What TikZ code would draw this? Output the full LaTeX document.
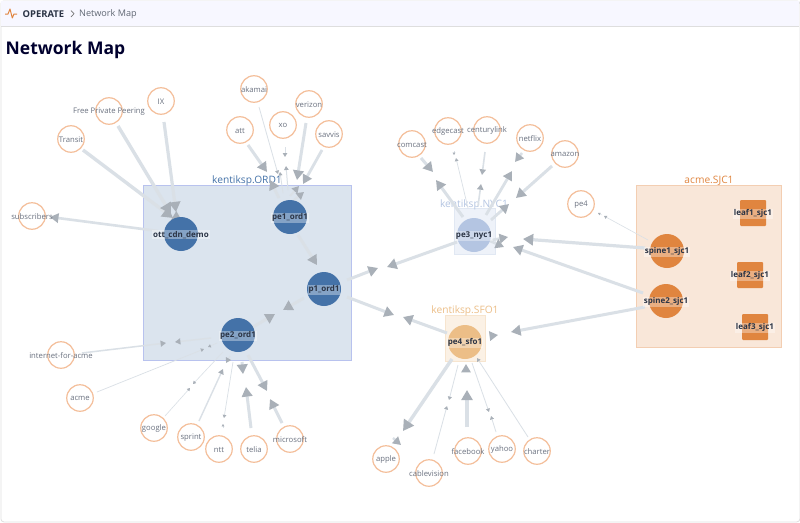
\documentclass[tikz,border=0pt]{standalone}
\usepackage{fontspec}
\setmainfont{Open Sans}
\usetikzlibrary{arrows.meta}
\definecolor{edgecol}{HTML}{DAE0E6}
\definecolor{headcol}{HTML}{A9B0B8}
\definecolor{extring}{HTML}{F4BF9B}
\definecolor{lbltxt}{HTML}{6B7280}
\definecolor{darktxt}{HTML}{2B3445}
\definecolor{blueA}{HTML}{4472A8}
\definecolor{blueB}{HTML}{B4C5E2}
\definecolor{orgA}{HTML}{E0853F}
\definecolor{orgB}{HTML}{ECBE87}
\newcommand{\szfont}[1]{\fontsize{#1}{#1}\selectfont}
\newcommand{\lnk}[4]{%
  \coordinate (#1-s) at (#3);\coordinate (#1-t) at (#4);
  \pgfmathsetmacro{\hl}{2.8*#2+1.2}\pgfmathsetmacro{\hw}{3*#2+1.5}
  \draw[draw=edgecol,line width=#2pt,-{Triangle[length=\hl pt,width=\hw pt,color=headcol]}] (#1-s) -- (#1-t);}
\tikzset{
  extnode/.style={circle,draw=extring,line width=1.2pt,fill=white,minimum size=26.5pt,inner sep=0pt,
    label={[extlabel]center:#1}},
  extlabel/.style={font=\szfont{7.7},text=lbltxt,inner sep=0pt,yshift=-.8pt},
  devlabel/.style={font=\bfseries\szfont{8},text=darktxt,inner sep=1pt,fill=white,fill opacity=.35,text opacity=1,yshift=-.8pt},
  devnode/.style={circle,draw=none,minimum size=34pt,inner sep=0pt},
  leafnode/.style={rectangle,rounded corners=1pt,draw=none,fill=orgA,minimum width=26pt,minimum height=26pt,inner sep=0pt},
  site/.style={rectangle,line width=.8pt,inner sep=0pt,anchor=north west},
  sitetitle/.style={font=\szfont{10.2},inner sep=0pt},
}
\begin{document}
\begin{tikzpicture}[x=1pt,y=-1pt]
\useasboundingbox (0,0) rectangle (800,522);
\fill[white] (0,0) rectangle (800,522);
% frame and header
\node[rectangle,draw=black!12,line width=.8pt,rounded corners=3pt,minimum width=799pt,minimum height=521pt,anchor=north west,inner sep=0pt] (frame) at (.5,.5) {};
\fill[fill=black!5!blue!3!white] (1,1) rectangle (799,26);
\draw[black!13,line width=.7pt] (1,26.5) -- (799,26.5);
\draw[orgA,line width=1pt,line join=round] (5,14) -- (8,14) -- (10,9) -- (12.3,18) -- (14,14) -- (17,14);
\node[anchor=west,inner sep=0pt,font=\bfseries\szfont{9.4},text=darktxt] (crumb) at (22.5,14.5) {OPERATE};
\draw[black!55,line width=.7pt] (71,10.5) -- (74,13.7) -- (71,17);
\node[anchor=west,inner sep=0pt,font=\szfont{9.1},text=lbltxt!90!black] (crumbb) at (79,14.5) {Network Map};
\node[anchor=west,inner sep=0pt,font=\bfseries\szfont{17.5},text=black!70!blue!60!black] (title) at (5.5,50) {Network Map};
% sites
\node[site,draw=blueB!85!blue!70,fill=blueA!19!white,minimum width=208pt,minimum height=175pt] (ord) at (143,185) {};
\node[site,draw=blueB!40!white,fill=blueB!22!white,minimum width=41pt,minimum height=46pt] (nyc) at (454,208) {};
\node[site,draw=orgB!40!white,fill=orgB!22!white,minimum width=40pt,minimum height=46pt] (sfo) at (445,315) {};
\node[site,draw=orgA!40!white,fill=orgA!20!white,minimum width=145pt,minimum height=162pt] (sjc) at (636,185) {};
\node[sitetitle,text=blueA] (ordt) at (247,181) {kentiksp.ORD1};
\node[sitetitle,text=blueB] (nyct) at (474,204.5) {kentiksp.NYC1};
\node[sitetitle,text=orgB] (sfot) at (465,311) {kentiksp.SFO1};
\node[sitetitle,text=orgA] (sjct) at (709,181) {acme.SJC1};
% connectors
\lnk{a1}{3.4}{83,150}{173,218}
\lnk{a2}{3.4}{118,126}{171,214}
\lnk{a3}{3.2}{164,122}{176,212}
\lnk{a4}{2.6}{158,231}{50,217}
\lnk{a5b}{2.8}{180,215}{171,220}
\lnk{b1}{3}{248,145}{267,172}
\lnk{b1r}{3}{279,198}{270,180}
\lnk{b2}{.8}{259,107}{278,174}
\lnk{b2r}{.8}{283,193}{280,172}
\lnk{b3}{1}{285,147}{285,157}
\lnk{b3r}{1}{288,190}{286,166}
\lnk{b4}{3}{306,123}{297,180}
\lnk{b4r}{2}{290,196}{299,186}
\lnk{b5}{2.8}{322,150}{303,184}
\lnk{b5r}{2.2}{294,200}{304,192}
\lnk{c1}{3}{298,235}{317,265}
\lnk{c2}{3}{304,298}{283,310}
\lnk{c3}{3}{253,327}{275,314}
\lnk{c4}{3}{347,280}{378,268}
\lnk{c5}{3}{457,242}{387,267}
\lnk{c6}{3}{347,297}{394,315}
\lnk{c7}{3}{447,333}{403,317}
\lnk{d1}{3.2}{645,248}{523,239}
\lnk{d2}{2.6}{492,240}{508,237}
\lnk{d3}{2.6}{490,241}{504,247}
\lnk{d4}{3}{643,293}{513,247}
\lnk{d5}{3}{645,307}{511,332}
\lnk{d6}{2.6}{490,336}{498,335}
\lnk{d7}{.6}{648,240}{604,216}
\lnk{d8}{.4}{602,215}{598,213}
\lnk{e1}{3}{421,158}{433,172}
\lnk{e2}{3}{463,217}{436,180}
\lnk{e3}{.4}{454,151}{454,155}
\lnk{e4}{.7}{468,208}{456,158}
\lnk{e5}{1.6}{485,152}{482,175}
\lnk{e6}{1.6}{478,206}{481,184}
\lnk{e7}{2.6}{522,153}{515,162}
\lnk{e8}{2.8}{486,215}{512,171}
\lnk{e9}{3}{552,166}{516,198}
\lnk{e10}{2.8}{491,220}{509,204}
\lnk{f1}{3.4}{452,359}{403,431}
\lnk{f2}{2.4}{393,438}{401,445}
\lnk{f3}{.8}{434,454}{447,406}
\lnk{f4}{.8}{458,365}{449,400}
\lnk{f5}{3.2}{467,427}{467,390}
\lnk{f6}{2.6}{466,370}{466,364}
\lnk{f7}{.8}{496,432}{491,416}
\lnk{f8}{.8}{472,363}{489,412}
\lnk{f9}{.8}{528,437}{477,358}
\lnk{g1}{1.5}{211,338}{175,342}
\lnk{g2}{1.5}{82,353}{166,343}
\lnk{g3}{.7}{97,392}{204,349}
\lnk{g4}{.6}{217,343}{208,347}
\lnk{g5}{.6}{165,416}{190,388}
\lnk{g6}{.6}{223,352}{193,384}
\lnk{g7}{1.4}{199,421}{223,369}
\lnk{g8}{1.4}{230,356}{226,363}
\lnk{g9}{.4}{223,428}{223,424}
\lnk{g10}{.7}{233,362}{224,418}
\lnk{g11}{3}{251,428}{246,387}
\lnk{g12}{3}{242,362}{243,374}
\lnk{g13}{3}{282,423}{270,399}
\lnk{g14}{3}{248,355}{267,391}
% device nodes
\node[devnode,fill=blueA] (ott) at (181,234) {};
\node[devnode,fill=blueA] (pe1) at (290,217) {};
\node[devnode,fill=blueA] (p1) at (324,289) {};
\node[devnode,fill=blueA] (pe2) at (238,335) {};
\node[devnode,fill=blueB] (pe3) at (474,235) {};
\node[devnode,fill=orgB] (pe4s) at (465,342) {};
\node[devnode,fill=orgA] (sp1) at (667,251) {};
\node[devnode,fill=orgA] (sp2) at (666,301) {};
\node[leafnode] (lf1) at (753,213) {};
\node[leafnode] (lf2) at (750,275) {};
\node[leafnode] (lf3) at (755,327) {};
\foreach \n/\t in {ott/ott\_cdn\_demo,pe1/pe1\_ord1,p1/p1\_ord1,pe2/pe2\_ord1,pe3/pe3\_nyc1,pe4s/pe4\_sfo1,sp1/spine1\_sjc1,sp2/spine2\_sjc1,lf1/leaf1\_sjc1,lf2/leaf2\_sjc1,lf3/leaf3\_sjc1}
  \node[devlabel] (\n-lbl) at (\n) {\t};
% external nodes
\foreach \n/\x/\y/\t in {transit/71/139/Transit,fpp/109/111/Free Private Peering,ix/161/101/IX,subs/32/216/subscribers,
  akamai/254/89/akamai,verizon/309/104/verizon,xo/283/125/xo,att/240/130/att,savvis/329/134/savvis,
  comcast/412/144/comcast,edgecast/448/131/edgecast,clink/487/130/centurylink,netflix/530/138/netflix,amazon/565/154/amazon,pefour/581/204/pe4,
  inet/61/355/internet-for-acme,acme/80/398/acme,google/154/428/google,sprint/191/437/sprint,ntt/219/449/ntt,telia/254/449/telia,microsoft/290/439/microsoft,
  apple/386/459/apple,cable/429/473/cablevision,facebook/468/451/facebook,yahoo/502/449/yahoo,charter/537/451/charter}
  \node[extnode=\t] (\n) at (\x,\y) {};
\end{tikzpicture}
\end{document}
